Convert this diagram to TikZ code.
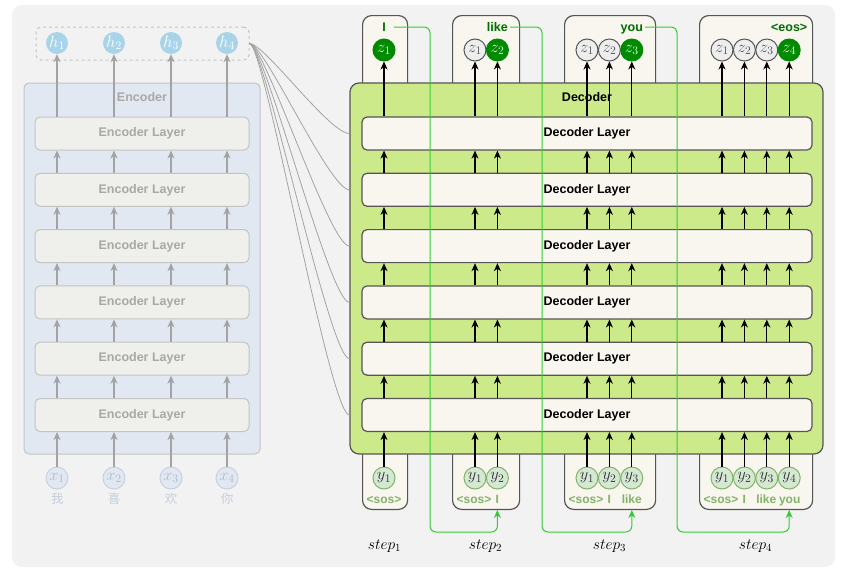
\RequirePackage{fix-cm}
\documentclass[tikz,border=0pt]{standalone}
\usepackage[no-math]{fontspec}
\setmainfont{Liberation Sans}
\newfontfamily\cjk{Noto Sans CJK SC}
\usetikzlibrary{arrows.meta}
\definecolor{bgc}{HTML}{F2F2F2}
\definecolor{encfill}{HTML}{E2E8F1}
\definecolor{encline}{HTML}{C4C4C4}
\definecolor{enclayer}{HTML}{EFEFEB}
\definecolor{enctext}{HTML}{A8A8A8}
\definecolor{encarrow}{HTML}{A3A3A3}
\definecolor{hfill}{HTML}{A8D4EA}
\definecolor{xfill}{HTML}{E2E8F1}
\definecolor{xline}{HTML}{C6D0E2}
\definecolor{xtext}{HTML}{B2BACB}
\definecolor{cjkc}{HTML}{C5CEDD}
\definecolor{decfill}{HTML}{CDEA8B}
\definecolor{darkline}{HTML}{555555}
\definecolor{cream}{HTML}{F8F6EF}
\definecolor{zgray}{HTML}{EEEEEE}
\definecolor{zgreen}{HTML}{008A00}
\definecolor{yfill}{HTML}{D5E8D4}
\definecolor{yline}{HTML}{82B366}
\definecolor{wordgreen}{HTML}{006E00}
\definecolor{route}{HTML}{33CC33}
\begin{document}
\begin{tikzpicture}[x=1pt,y=-1pt,
  txt/.style={font=\fontsize{12.5}{14}\selectfont\bfseries},
  mth/.style={font=\fontsize{16.5}{18}\selectfont},
  encbox/.style={draw=encline, fill=encfill, rounded corners=5pt, line width=1pt, minimum width=236pt, minimum height=371pt, inner sep=0pt},
  enclay/.style={draw=encline, fill=enclayer, rounded corners=5pt, line width=1pt, minimum width=214pt, minimum height=33pt, text=enctext, txt},
  hnode/.style={circle, fill=hfill, minimum size=22pt, inner sep=0pt, text=white, mth},
  xnode/.style={circle, draw=xline, fill=xfill, minimum size=22pt, inner sep=0pt, text=xtext, line width=1pt, mth},
  deccase/.style={draw=darkline, fill=decfill, rounded corners=9pt, line width=1.2pt, minimum width=473pt, minimum height=371pt, inner sep=0pt},
  declay/.style={draw=darkline, fill=cream, rounded corners=5pt, line width=1.2pt, minimum width=450pt, minimum height=33pt, txt},
  stepbox/.style={draw=darkline, fill=cream, rounded corners=9pt, line width=1.2pt, inner sep=0pt},
  zoff/.style={circle, draw=darkline, fill=zgray, minimum size=22pt, inner sep=0pt, line width=1pt, text=darkline, mth},
  zon/.style={circle, draw=zgreen, fill=zgreen, minimum size=22pt, inner sep=0pt, line width=1pt, text=green!15!white, mth},
  ynode/.style={circle, draw=yline, fill=yfill, minimum size=22pt, inner sep=0pt, line width=1pt, text=black!80, mth},
  soslab/.style={text=yline, font=\fontsize{12}{14}\selectfont\bfseries, inner sep=1pt, anchor=base},
  wordlab/.style={text=wordgreen, txt, inner sep=2pt, anchor=base},
  darr/.style={-{Stealth[length=8pt,width=7pt,inset=2.5pt]}, line width=1.1pt, black},
  earr/.style={-{Stealth[length=8pt,width=7pt,inset=2.5pt]}, line width=1.1pt, encarrow},
  conn/.style={draw=encarrow, line width=0.8pt},
  garr/.style={draw=route, line width=1pt, rounded corners=6pt, -{Stealth[length=8pt,width=7pt,inset=2.5pt]}},
  steplab/.style={font=\fontsize{15.5}{17}\selectfont}
]
\useasboundingbox (0,0) rectangle (844,579);
\fill[bgc, rounded corners=10pt] (12,5) rectangle (835,567);

% ---------- Encoder ----------
\node[encbox] (enc) at (142,268.5) {};
\node[txt, text=enctext] (enclab) at (142,97) {Encoder};
\foreach \k/\y in {1/133.5,2/189.8,3/246.1,4/302.4,5/358.7,6/415}
  \node[enclay] (E\k) at (142,\y) {Encoder Layer};
\node[draw=encline, dashed, rounded corners=5pt, line width=1pt, minimum width=213pt, minimum height=33pt] (hb) at (142.5,43.5) {};
\foreach \k/\x/\c in {1/57/我,2/114/喜,3/171/欢,4/227/你}{
  \node[hnode] (h\k) at (\x,43) {$h_{\k}$};
  \node[xnode] (x\k) at (\x,478) {$x_{\k}$};
  \node[text=cjkc, font=\cjk\fontsize{12.5}{14}\selectfont] (c\k) at (\x,499) {\c};
  \draw[earr] (x\k.north) -- (x\k |- E6.south);
  \foreach \a/\b in {6/5,5/4,4/3,3/2,2/1}
    \draw[earr] (x\k |- E\a.north) -- (x\k |- E\b.south);
  \draw[earr] (x\k |- E1.north) -- (h\k.south);
}

% ---------- Step boxes (behind decoder) ----------
\node[stepbox, anchor=north west, minimum width=45pt, minimum height=95pt] (t1) at (362,15) {};
\node[stepbox, anchor=north west, minimum width=67pt, minimum height=95pt] (t2) at (452,15) {};
\node[stepbox, anchor=north west, minimum width=91pt, minimum height=95pt] (t3) at (564,15) {};
\node[stepbox, anchor=north west, minimum width=113pt, minimum height=95pt] (t4) at (699,15) {};
\node[stepbox, anchor=south west, minimum width=45pt, minimum height=80pt] (b1) at (362,510) {};
\node[stepbox, anchor=south west, minimum width=67pt, minimum height=80pt] (b2) at (452,510) {};
\node[stepbox, anchor=south west, minimum width=91pt, minimum height=80pt] (b3) at (564,510) {};
\node[stepbox, anchor=south west, minimum width=113pt, minimum height=80pt] (b4) at (699,510) {};

% ---------- Decoder ----------
\node[deccase] (dec) at (586.5,268.5) {};
\node[txt] (declab) at (587,97) {Decoder};
\foreach \k/\y in {1/133.5,2/189.8,3/246.1,4/302.4,5/358.7,6/415}
  \node[declay] (D\k) at (587,\y) {Decoder Layer};

% encoder -> decoder connections
\foreach \k in {1,...,6}
  \draw[conn] (hb.east) .. controls +(15,0) and +(-20,0) .. (dec.west |- D\k);

% z and y nodes with arrows
\foreach \s/\n/\x/\st in {1/1/384/zon, 2/1/475/zoff, 2/2/497.4/zon, 3/1/587/zoff, 3/2/609.4/zoff, 3/3/631.8/zon, 4/1/722/zoff, 4/2/744.4/zoff, 4/3/766.8/zoff, 4/4/789.2/zon}{
  \node[\st] (z\s\n) at (\x,50) {$z_{\n}$};
  \node[ynode] (y\s\n) at (\x,478) {$y_{\n}$};
  \draw[darr] (y\s\n.north) -- (y\s\n |- D6.south);
  \foreach \a/\b in {6/5,5/4,4/3,3/2,2/1}
    \draw[darr] (y\s\n |- D\a.north) -- (y\s\n |- D\b.south);
  \draw[darr] (y\s\n |- D1.north) -- (z\s\n.south);
}

% bottom labels
\node[soslab] (s11) at (384,503.5) {<sos>};
\node[soslab] (s21) at (474,503.5) {<sos>};
\node[soslab] (s22) at (497.4,503.5) {I};
\node[soslab] (s31) at (586,503.5) {<sos>};
\node[soslab] (s32) at (609.4,503.5) {I};
\node[soslab] (s33) at (631.8,503.5) {like};
\node[soslab] (s41) at (721,503.5) {<sos>};
\node[soslab] (s42) at (744.4,503.5) {I};
\node[soslab] (s43) at (766.3,503.5) {like};
\node[soslab] (s44) at (789.7,503.5) {you};

% top words
\node[wordlab] (w1) at (384,31.5) {I};
\node[wordlab] (w2) at (497.4,31.5) {like};
\node[wordlab] (w3) at (631.8,31.5) {you};
\node[wordlab] (w4) at (789.2,31.5) {<eos>};

% step labels
\node[steplab] (st1) at (384.5,546) {$step_1$};
\node[steplab] (st2) at (485.5,546) {$step_2$};
\node[steplab] (st3) at (609.5,546) {$step_3$};
\node[steplab] (st4) at (755.5,546) {$step_4$};

% feedback routes
\coordinate (r1) at (430,532);
\coordinate (r2) at (542,532);
\coordinate (r3) at (677,532);
\draw[garr] ([xshift=6pt]w1.east |- 0,27) -| (r1) -| (y22 |- b2.south);
\draw[garr] (w2.east |- 0,27) -| (r2) -| (y33 |- b3.south);
\draw[garr] (w3.east |- 0,27) -| (r3) -| (y44 |- b4.south);
\end{tikzpicture}
\end{document}
